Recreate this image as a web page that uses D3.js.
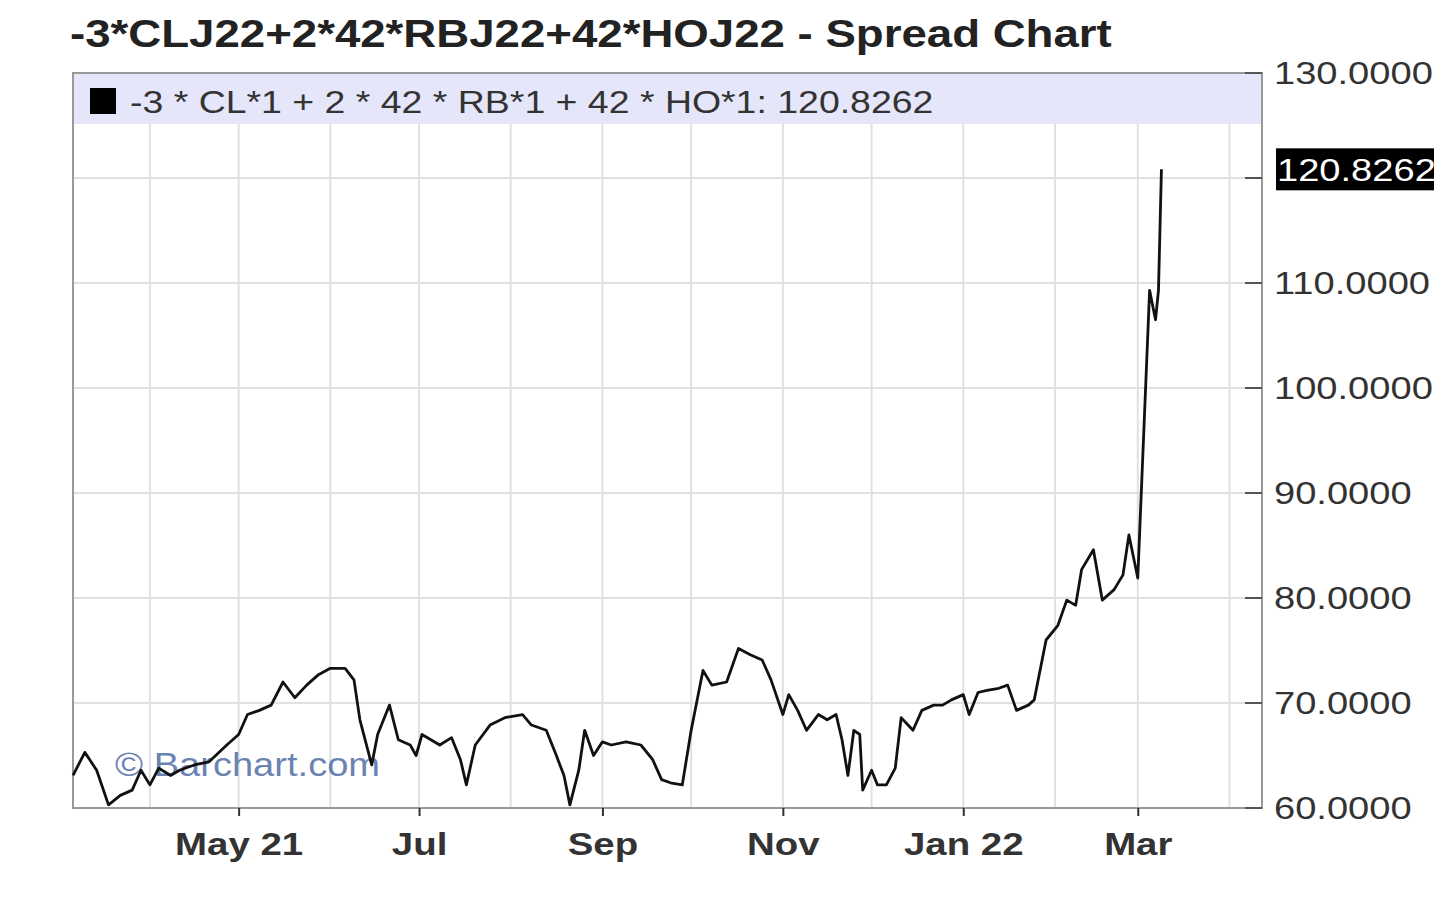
<!DOCTYPE html>
<html><head><meta charset="utf-8">
<script src="https://cdn.jsdelivr.net/npm/d3@7/dist/d3.min.js"></script>
<style>body{margin:0;background:#fff;font-family:"Liberation Sans",Arial,sans-serif}</style>
</head><body><svg id="c" width="1442" height="899"></svg>
<script>
const dates=["2021-03-06","2021-03-10","2021-03-14","2021-03-18","2021-03-22","2021-03-26","2021-03-29","2021-04-01","2021-04-04","2021-04-08","2021-04-11","2021-04-16","2021-04-21","2021-04-27","2021-05-01","2021-05-04","2021-05-08","2021-05-12","2021-05-16","2021-05-20","2021-05-24","2021-05-28","2021-06-01","2021-06-06","2021-06-09","2021-06-11","2021-06-15","2021-06-17","2021-06-21","2021-06-24","2021-06-28","2021-06-30","2021-07-02","2021-07-05","2021-07-08","2021-07-12","2021-07-15","2021-07-17","2021-07-20","2021-07-25","2021-07-30","2021-08-05","2021-08-08","2021-08-13","2021-08-16","2021-08-19","2021-08-21","2021-08-24","2021-08-26","2021-08-29","2021-09-01","2021-09-04","2021-09-09","2021-09-14","2021-09-18","2021-09-21","2021-09-24","2021-09-28","2021-10-01","2021-10-05","2021-10-08","2021-10-13","2021-10-17","2021-10-21","2021-10-25","2021-10-28","2021-11-01","2021-11-03","2021-11-06","2021-11-09","2021-11-13","2021-11-16","2021-11-19","2021-11-21","2021-11-23","2021-11-25","2021-11-27","2021-11-28","2021-12-01","2021-12-03","2021-12-06","2021-12-09","2021-12-11","2021-12-15","2021-12-18","2021-12-22","2021-12-25","2021-12-28","2022-01-01","2022-01-03","2022-01-06","2022-01-09","2022-01-13","2022-01-16","2022-01-19","2022-01-23","2022-01-25","2022-01-29","2022-02-02","2022-02-05","2022-02-08","2022-02-10","2022-02-14","2022-02-17","2022-02-21","2022-02-24","2022-02-26","2022-03-01","2022-03-05","2022-03-07","2022-03-08","2022-03-09"];
const values=[63.1,65.3,63.6,60.3,61.2,61.7,63.6,62.2,63.8,63.1,63.6,64.1,64.4,66.0,67.0,68.9,69.3,69.8,72.0,70.5,71.7,72.7,73.3,73.3,72.2,68.4,64.1,67.0,69.8,66.5,66.0,65.0,67.0,66.5,66.0,66.7,64.6,62.2,66.0,67.9,68.6,68.9,67.9,67.4,65.3,63.1,60.3,63.6,67.4,65.0,66.3,66.0,66.3,66.0,64.6,62.7,62.4,62.2,67.4,73.1,71.7,72.0,75.2,74.6,74.1,72.2,68.9,70.8,69.3,67.4,68.9,68.4,68.9,66.5,63.1,67.4,67.0,61.7,63.6,62.2,62.2,63.8,68.6,67.4,69.3,69.8,69.8,70.3,70.8,68.9,71.0,71.2,71.4,71.7,69.3,69.8,70.3,76.0,77.4,79.8,79.3,82.7,84.6,79.8,80.8,82.2,86.0,81.9,109.3,106.5,109.3,120.8262];
const yTicks=[60,70,80,90,100,110,120,130];
const xLabels=[["2021-05-01","May 21"],["2021-07-01","Jul"],["2021-09-01","Sep"],["2021-11-01","Nov"],["2022-01-01","Jan 22"],["2022-03-01","Mar"]];
const title="-3*CLJ22+2*42*RBJ22+42*HOJ22 - Spread Chart";
const legendText="-3 * CL*1 + 2 * 42 * RB*1 + 42 * HO*1: 120.8262";
const last=120.8262;

const p=d3.timeParse("%Y-%m-%d");
const data=dates.map((d,i)=>({d:p(d),v:values[i]}));
const L=73,R=1262,T=73,B=808;
const x=d3.scaleTime().domain([p("2021-03-06"),p("2022-04-12")]).range([L,R]);
const y=d3.scaleLinear().domain([60,130]).range([B,T]);
const svg=d3.select("#c");
function widen(sel,f){sel.each(function(){const w=this.getComputedTextLength();this.setAttribute("textLength",w*f);this.setAttribute("lengthAdjust","spacingAndGlyphs");});}

widen(svg.append("text").attr("x",70).attr("y",47).attr("font-size",38).attr("font-weight","bold").attr("fill","#222").text(title),1.2);

// grid
const months=d3.timeMonth.range(p("2021-04-01"),p("2022-04-12"));
svg.append("g").selectAll("line").data(months).join("line")
 .attr("x1",d=>x(d)).attr("x2",d=>x(d)).attr("y1",T).attr("y2",B).attr("stroke","#e0e0e0").attr("stroke-width",2);
svg.append("g").selectAll("line").data(yTicks).join("line")
 .attr("x1",L).attr("x2",R).attr("y1",d=>y(d)).attr("y2",d=>y(d)).attr("stroke","#e0e0e0").attr("stroke-width",2);

// legend band
svg.append("rect").attr("x",L).attr("y",T+1).attr("width",R-L).attr("height",50).attr("fill","#e6e6fa");
svg.append("rect").attr("x",90).attr("y",88).attr("width",26).attr("height",26).attr("fill","#000");
widen(svg.append("text").attr("x",130).attr("y",113).attr("font-size",32).attr("fill","#333").text(legendText),1.17);

// border
svg.append("rect").attr("x",L).attr("y",T).attr("width",R-L).attr("height",B-T).attr("fill","none").attr("stroke","#999").attr("stroke-width",2);

// watermark
widen(svg.append("text").attr("x",115).attr("y",776).attr("font-size",34).attr("fill","#3a5a9a").attr("opacity",0.75).text("© Barchart.com"),1.12);

// line
svg.append("path").datum(data).attr("fill","none").attr("stroke","#111").attr("stroke-width",2.8).attr("stroke-linejoin","round")
 .attr("d",d3.line().x(d=>x(d.d)).y(d=>y(d.v)));

// y axis
const ya=svg.append("g").attr("transform",`translate(${R},0)`)
 .call(d3.axisRight(y).tickValues(yTicks.filter(v=>v!==120)).tickSize(0).tickPadding(12).tickFormat(d3.format(".4f")));
ya.select(".domain").remove();
ya.selectAll("text").attr("font-size",32).attr("fill","#333").attr("font-family","Liberation Sans, Arial");
widen(ya.selectAll("text"),1.19);
svg.append("g").selectAll("line").data(yTicks).join("line")
 .attr("x1",R-17).attr("x2",R).attr("y1",d=>y(d)).attr("y2",d=>y(d)).attr("stroke","#555").attr("stroke-width",2);

// x axis
const xa=svg.append("g").attr("transform",`translate(0,${B})`)
 .call(d3.axisBottom(x).tickValues(xLabels.map(d=>p(d[0]))).tickSize(8).tickPadding(16).tickFormat((d,i)=>xLabels[i][1]));
xa.select(".domain").remove();
xa.selectAll("line").attr("stroke","#333").attr("stroke-width",2);
xa.selectAll("text").attr("font-size",32).attr("font-weight","bold").attr("fill","#333").attr("font-family","Liberation Sans, Arial");
widen(xa.selectAll("text"),1.2);

// last value label
const lv=svg.append("g").attr("transform",`translate(${R+14},${y(last)})`);
lv.append("rect").attr("x",0).attr("y",-21).attr("width",158).attr("height",42).attr("fill","#000");
widen(lv.append("text").attr("x",1).attr("y",12).attr("font-size",32).attr("fill","#fff").text(d3.format(".4f")(last)),1.19);
</script></body></html>
